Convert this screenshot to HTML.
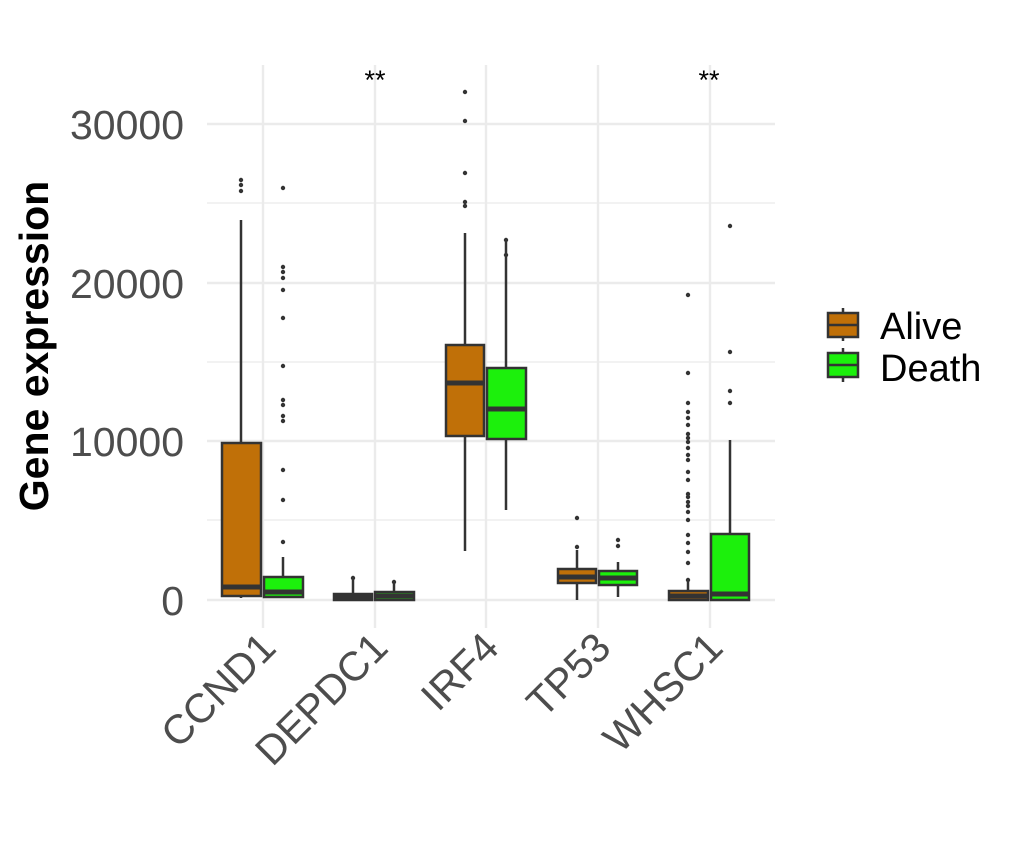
<!DOCTYPE html>
<html><head><style>body{margin:0;background:#fff}</style></head><body>
<svg width="1024" height="853" viewBox="0 0 1024 853" xmlns="http://www.w3.org/2000/svg" font-family="Liberation Sans, sans-serif">
<rect width="1024" height="853" fill="#fff"/>
<g stroke="#ebebeb" stroke-width="1.2">
<line x1="207" x2="775" y1="520" y2="520"/><line x1="207" x2="775" y1="362" y2="362"/><line x1="207" x2="775" y1="203" y2="203"/>
</g>
<g stroke="#ebebeb" stroke-width="2.4">
<line x1="207" x2="775" y1="600" y2="600"/><line x1="207" x2="775" y1="441" y2="441"/><line x1="207" x2="775" y1="283" y2="283"/><line x1="207" x2="775" y1="124" y2="124"/>
<line x1="263" x2="263" y1="65" y2="628"/><line x1="375" x2="375" y1="65" y2="628"/><line x1="486" x2="486" y1="65" y2="628"/><line x1="598" x2="598" y1="65" y2="628"/><line x1="710" x2="710" y1="65" y2="628"/>
</g>
<g stroke="#333" stroke-width="2.5">
<line x1="241" x2="241" y1="220" y2="598"/><line x1="283" x2="283" y1="557" y2="598"/>
<line x1="353" x2="353" y1="578" y2="600"/><line x1="394" x2="394" y1="582" y2="600"/>
<line x1="465" x2="465" y1="233" y2="551"/><line x1="506" x2="506" y1="239" y2="510"/>
<line x1="577" x2="577" y1="550" y2="600"/><line x1="618" x2="618" y1="562" y2="597"/>
<line x1="688" x2="688" y1="580" y2="600"/><line x1="730" x2="730" y1="440" y2="600"/>
</g>
<g stroke="#333" stroke-width="2.5">
<rect x="222" y="443" width="39" height="153" fill="#c07008"/>
<rect x="264" y="577" width="39" height="20" fill="#1cf00c"/>
<rect x="334" y="594" width="38" height="6" fill="#c07008"/>
<rect x="375" y="592" width="39" height="8" fill="#1cf00c"/>
<rect x="446" y="345" width="38" height="91" fill="#c07008"/>
<rect x="487" y="368" width="39" height="71" fill="#1cf00c"/>
<rect x="558" y="569" width="38" height="14" fill="#c07008"/>
<rect x="599" y="571" width="38" height="14" fill="#1cf00c"/>
<rect x="669" y="591" width="39" height="9" fill="#c07008"/>
<rect x="711" y="534" width="38" height="66" fill="#1cf00c"/>
</g>
<g stroke="#333" stroke-width="5">
<line x1="222" x2="261" y1="587" y2="587"/><line x1="264" x2="303" y1="592" y2="592"/>
<line x1="334" x2="372" y1="597" y2="597"/><line x1="375" x2="414" y1="596" y2="596"/>
<line x1="446" x2="484" y1="383" y2="383"/><line x1="487" x2="526" y1="409" y2="409"/>
<line x1="558" x2="596" y1="577" y2="577"/><line x1="599" x2="637" y1="578" y2="578"/>
<line x1="669" x2="708" y1="596" y2="596"/><line x1="711" x2="749" y1="594" y2="594"/>
</g>
<g fill="#333">
<circle cx="241" cy="180" r="2.2"/><circle cx="241" cy="185" r="2.2"/><circle cx="241" cy="191" r="2.2"/>
<circle cx="283" cy="188" r="2.2"/><circle cx="283" cy="267" r="2.2"/><circle cx="283" cy="272" r="2.2"/><circle cx="283" cy="278" r="2.2"/><circle cx="283" cy="290" r="2.2"/><circle cx="283" cy="318" r="2.2"/><circle cx="283" cy="366" r="2.2"/><circle cx="283" cy="400" r="2.2"/><circle cx="283" cy="405" r="2.2"/><circle cx="283" cy="416" r="2.2"/><circle cx="283" cy="421" r="2.2"/><circle cx="283" cy="470" r="2.2"/><circle cx="283" cy="500" r="2.2"/><circle cx="283" cy="542" r="2.2"/>
<circle cx="353" cy="578" r="2.2"/><circle cx="394" cy="582" r="2.2"/>
<circle cx="465" cy="92" r="2.2"/><circle cx="465" cy="121" r="2.2"/><circle cx="465" cy="173" r="2.2"/><circle cx="465" cy="202" r="2.2"/><circle cx="465" cy="206" r="2.2"/>
<circle cx="506" cy="240" r="2.2"/><circle cx="506" cy="255" r="2.2"/>
<circle cx="577" cy="518" r="2.2"/><circle cx="577" cy="547" r="2.2"/>
<circle cx="618" cy="540" r="2.2"/><circle cx="618" cy="546" r="2.2"/>
<circle cx="688" cy="295" r="2.2"/><circle cx="688" cy="373" r="2.2"/><circle cx="688" cy="403" r="2.2"/><circle cx="688" cy="412" r="2.2"/><circle cx="688" cy="418" r="2.2"/><circle cx="688" cy="425" r="2.2"/><circle cx="688" cy="434" r="2.2"/><circle cx="688" cy="438" r="2.2"/><circle cx="688" cy="442" r="2.2"/><circle cx="688" cy="448" r="2.2"/><circle cx="688" cy="455" r="2.2"/><circle cx="688" cy="460" r="2.2"/><circle cx="688" cy="472" r="2.2"/><circle cx="688" cy="480" r="2.2"/><circle cx="688" cy="494" r="2.2"/><circle cx="688" cy="497" r="2.2"/><circle cx="688" cy="502" r="2.2"/><circle cx="688" cy="506" r="2.2"/><circle cx="688" cy="512" r="2.2"/><circle cx="688" cy="520" r="2.2"/><circle cx="688" cy="535" r="2.2"/><circle cx="688" cy="543" r="2.2"/><circle cx="688" cy="552" r="2.2"/><circle cx="688" cy="563" r="2.2"/><circle cx="688" cy="580" r="2.2"/>
<circle cx="730" cy="226" r="2.2"/><circle cx="730" cy="352" r="2.2"/><circle cx="730" cy="391" r="2.2"/><circle cx="730" cy="403" r="2.2"/>
</g>
<g font-size="27" text-anchor="middle" fill="#000"><text x="375" y="89">**</text><text x="709" y="89">**</text></g>
<g font-size="41" fill="#4d4d4d" text-anchor="end">
<text x="184" y="615">0</text><text x="184" y="456">10000</text><text x="184" y="298">20000</text><text x="184" y="139">30000</text>
</g>
<g font-size="41" fill="#4d4d4d" text-anchor="end">
<text transform="translate(278,650) rotate(-45)">CCND1</text>
<text transform="translate(390,650) rotate(-45)">DEPDC1</text>
<text transform="translate(501,650) rotate(-45)">IRF4</text>
<text transform="translate(613,650) rotate(-45)">TP53</text>
<text transform="translate(725,650) rotate(-45)">WHSC1</text>
</g>
<text transform="translate(48,346) rotate(-90)" font-size="41" font-weight="bold" text-anchor="middle">Gene expression</text>
<g stroke="#333" stroke-width="2.5">
<line x1="843" x2="843" y1="308" y2="341"/><rect x="828" y="313" width="30" height="24" fill="#c07008"/><line x1="828" x2="858" y1="325" y2="325"/>
<line x1="843" x2="843" y1="348" y2="382"/><rect x="828" y="353" width="30" height="24" fill="#1cf00c"/><line x1="828" x2="858" y1="365" y2="365"/>
</g>
<g font-size="38" fill="#000"><text x="880" y="339">Alive</text><text x="880" y="381">Death</text></g>
</svg>
</body></html>
